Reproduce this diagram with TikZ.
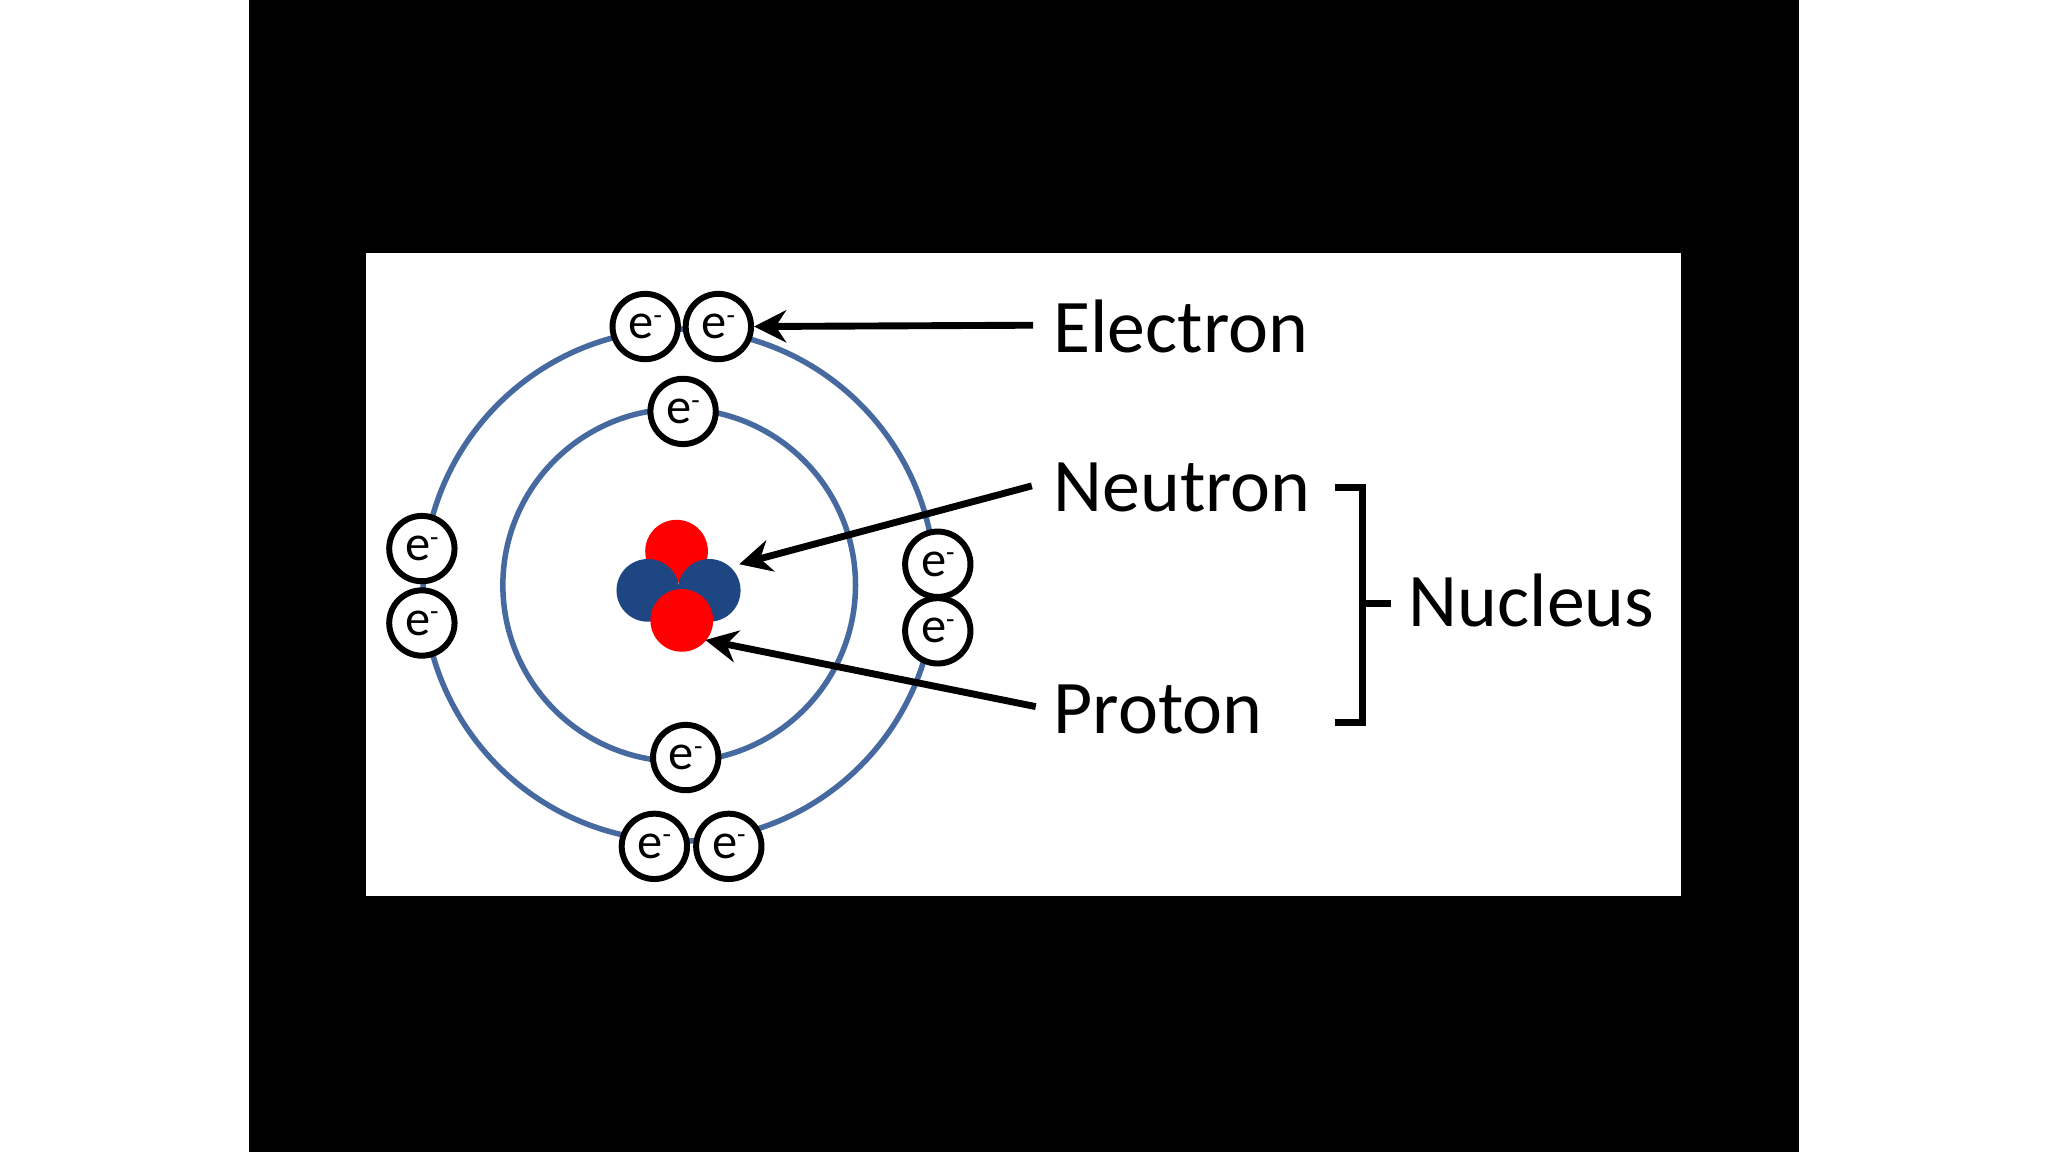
\documentclass[tikz,border=0pt]{standalone}
\usepackage{fontspec}
\setmainfont{Carlito}
\usetikzlibrary{arrows.meta}
\definecolor{orbc}{RGB}{70,105,160}
\definecolor{neut}{RGB}{30,70,130}
\begin{document}
\begin{tikzpicture}[x=0.01cm,y=-0.01cm,
 orb/.style={draw=orbc,line width=1.2pt},
 el/.style={circle,draw=black,line width=1.3pt,fill=white,minimum size=0.5cm,inner sep=0pt,font=\fontsize{11}{11}\selectfont},
 lbl/.style={anchor=west,inner sep=0pt,font=\fontsize{16.5}{18}\selectfont},
 arr/.style={-{Stealth[length=7pt,width=7pt]},line width=1.5pt}]
\useasboundingbox (0,0) rectangle (1568,882);
\fill[black] (191,0) rectangle (1377,882);
\fill[white] (280,194) rectangle (1287,686);
\coordinate (c) at (520,448);
\draw[orb] (c) circle (135);
\draw[orb] (c) circle (196);
\fill[red] (518,422) circle (24);
\fill[neut] (496,452) circle (24);
\fill[neut] (543,452) circle (24);
\fill[red] (522,475) circle (24);
\coordinate (nt) at (566,432);
\coordinate (pt) at (540,490);
\foreach \n/\x/\y in {e1/494/250,e2/550/250,e3/523/315,e4/323/420,e5/323/477,e6/718/432,e7/718/483,e8/525/580,e9/501/648,e10/558/648}
  \node[el] (\n) at (\x,\y) {e\raisebox{0.6ex}{\fontsize{6}{6}\selectfont -}};
\node[lbl] (electron) at (806,250) {Electron};
\node[lbl] (neutron) at (806,373) {Neutron};
\node[lbl] (proton) at (806,543) {Proton};
\node[lbl] (nucleus) at (1078,460) {Nucleus};
\coordinate (ea) at (791,249);
\coordinate (na) at (790,372);
\coordinate (pa) at (793,541);
\coordinate (ta) at (1065,462);
\draw[arr] (ea) -- (e2.east);
\draw[arr] (na) -- (nt);
\draw[arr] (pa) -- (pt);
\draw[line width=1.5pt] (1022,373) -- (1043,373) -- (1043,553) -- (1022,553);
\draw[line width=1.5pt] (1043,462) -- (ta);
\end{tikzpicture}
\end{document}
